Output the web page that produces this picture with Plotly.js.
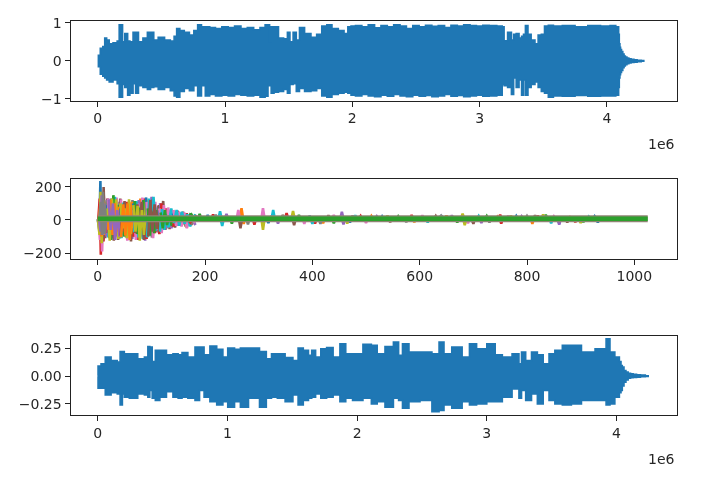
<!DOCTYPE html>
<html><head><meta charset="utf-8">
<script src="https://cdn.plot.ly/plotly-3.0.1.min.js"></script>
<style>html,body{margin:0;padding:0;background:#fff}#c{width:703px;height:479px;filter:blur(0.5px)}</style>
</head><body><div id="c"></div>
<script>
// Panel 1: envelope of the waveform (x in units of 1e6 samples)
const topTimes=[0,.01,.03,.05,.06,.08,.1,.14,.165,.172,.19,.2,.225,.245,.26,.27,.285,.31,.33,.38,.4,.43,.45,.5,.55,.59,.61,.63,.66,.7,.74,.77,.8,.83,.86,.9,.95,1,1.05,1.1,1.15,1.2,1.25,1.3,1.33,1.345,1.355,1.37,1.4,1.44,1.48,1.5,1.52,1.55,1.57,1.6,1.65,1.7,1.74,1.78,1.82,1.86,1.92,1.95,1.98,2,2.05,2.1,2.15,2.2,2.25,2.3,2.35,2.4,2.45,2.5,2.55,2.6,2.65,2.7,2.75,2.8,2.85,2.9,2.95,3,3.05,3.1,3.17,3.185,3.2,3.24,3.26,3.275,3.3,3.32,3.34,3.35,3.37,3.39,3.42,3.45,3.47,3.5,3.52,3.56,3.6,3.7,3.8,3.9,4,4.05,4.09,4.095,4.1,4.105,4.11,4.12,4.13,4.14,4.15,4.165,4.18,4.2,4.225,4.25,4.29];
const topUpper=[.02,.15,.33,.38,.6,.55,.45,.48,.52,.95,.95,.5,.72,.52,.5,.5,.75,.75,.5,.6,.75,.75,.55,.62,.55,.52,.65,.85,.8,.75,.68,.8,.95,.9,.9,.88,.85,.9,.88,.92,.85,.88,.82,.88,.95,.95,.5,.9,.9,.6,.58,.75,.5,.75,.55,.88,.72,.62,.7,.92,.95,.85,.8,.72,.9,.92,.93,.9,.95,.87,.93,.9,.95,.92,.85,.93,.9,.94,.91,.93,.88,.94,.92,.95,.93,.92,.94,.93,.92,.9,.53,.75,.55,.7,.72,.6,.65,.7,.93,.7,.55,.45,.68,.7,.92,.94,.92,.93,.9,.93,.92,.93,.9,.7,.45,.36,.3,.25,.18,.13,.1,.075,.055,.04,.03,.02,.01];
const topLower=[-.02,-.15,-.35,-.4,-.45,-.5,-.55,-.5,-.6,-.95,-.95,-.62,-.7,-.9,-.6,-.85,-.6,-.85,-.65,-.7,-.75,-.7,-.68,-.75,-.7,-.78,-.92,-.95,-.8,-.72,-.78,-.65,-.92,-.65,-.92,-.88,-.92,-.9,-.92,-.88,-.9,-.92,-.9,-.95,-.93,-.6,-.65,-.85,-.82,-.8,-.75,-.85,-.62,-.6,-.8,-.72,-.8,-.78,-.72,-.92,-.95,-.88,-.85,-.82,-.85,-.9,-.92,-.88,-.92,-.94,-.9,-.93,-.88,-.92,-.94,-.9,-.93,-.91,-.94,-.92,-.88,-.93,-.91,-.94,-.92,-.9,-.93,-.92,-.9,-.62,-.65,-.7,-.88,-.45,-.7,-.5,-.9,-.5,-.9,-.7,-.62,-.55,-.7,-.8,-.85,-.95,-.92,-.93,-.91,-.93,-.92,-.92,-.9,-.7,-.45,-.36,-.3,-.25,-.18,-.13,-.1,-.075,-.055,-.04,-.03,-.02,-.01];

// Panel 2: frequency bins, one series per colour of the cycle
const headBins=[0,3,5,7,10,14,18,22,26,30,34,38,42,46,50,54,58,62,66,70,74,78,82,86,90,94,98,102,106,110,114,118,122,126,130,135,140,145,150,155,160,165,170,180];
const headShift=[0,1.6,3.2,.8,2.4,4,1.2,2.8,.4,2];
const headBlue=[5,-60,235,-120,110,-70,90,-95,60,-80,100,-50,70,-90,60,-40,85,-60,100,-75,50,-85,100,-60,135,-70,110,-65,100,-50,60,-40,50,-25,45,-30,40,-20,30,-25,20,-15,25,-10];
const headOrange=[-8,75,-100,140,-90,110,-60,120,-90,100,-70,80,-105,95,-95,100,-120,110,-70,85,-95,130,-60,100,-70,110,-85,90,-60,70,-75,60,-40,50,-45,60,-25,40,-30,20,-25,30,-15,20];
const headGreen=[6,-40,90,-110,95,-85,100,-120,150,-75,90,-110,60,-100,80,-70,60,-95,115,-85,75,-60,120,-90,70,-95,50,-80,60,-55,45,-50,60,-30,25,-35,15,-30,25,-20,15,-25,42,-12];
const headRed=[-10,130,-210,160,-130,95,-80,110,-70,120,-85,60,-95,70,-60,110,-95,80,-100,60,-120,70,-100,130,-115,60,-80,125,-80,50,-85,100,-35,70,-30,45,-40,25,-20,35,-18,40,-20,15];
const headPurple=[4,-70,150,-90,100,-100,125,-60,100,-120,60,-100,80,-60,105,-90,70,-115,55,-110,120,-70,95,-125,85,-75,140,-50,75,-75,100,-45,55,-50,30,-50,20,-35,45,-15,30,-15,18,-30];
const headBrown=[-7,95,-130,200,-110,130,-110,70,-125,85,-120,130,-70,115,-80,60,-130,65,-80,95,-60,110,-120,75,-100,120,-70,95,-55,90,-40,115,-60,40,-55,30,-45,55,-12,50,-40,15,-30,30];
const headPink=[5,-120,130,-190,150,-60,130,-90,120,-105,135,-85,125,-75,90,-125,105,-70,60,-120,100,-110,135,-70,110,-85,60,-110,110,-60,70,-80,90,-25,75,-20,60,-35,50,-40,45,-50,22,-18];
const headGray=[-6,110,-90,170,-85,120,-95,130,-100,70,-100,110,-85,80,-105,75,-75,120,-90,110,-80,85,-75,115,-80,90,-105,70,-70,85,-55,75,-50,65,-40,40,-30,45,-22,35,-30,25,-25,20];
const headOlive=[4,-90,170,-140,120,-75,70,-125,130,-90,125,-115,100,-50,70,-110,125,-85,90,-70,85,-125,60,-90,125,-65,85,-105,95,-40,65,-65,40,-45,40,-40,25,-28,40,-25,35,-45,12,-22];
const headCyan=[-5,50,-75,100,-60,105,-105,85,-110,140,-60,95,-110,105,-85,90,-80,100,-75,115,-105,60,-115,85,-105,130,-60,140,-65,75,-70,65,-60,30,-45,70,-20,60,-35,50,-22,35,-40,35];

const tailBinsBlue=[205,318,395,470,530,640,700,780,860,926,932], tailBlue=[30,-18,25,-16,22,28,-18,24,-20,22,-16];
const tailBinsOrange=[268,272,345,420,510,590,650,745,810,880], tailOrange=[72,-24,28,-20,24,-14,26,20,-24,18];
const tailBinsGreen=[190,250,375,440,560,670,725,835,905], tailGreen=[36,-22,30,-20,22,-16,24,32,-14];
const tailBinsRed=[215,292,352,405,490,585,750,752,820,890], tailRed=[34,-28,42,-22,24,30,32,-22,26,-14];
const tailBinsPurple=[240,336,455,458,520,660,715,790,860], tailPurple=[36,-22,50,-26,22,28,-18,22,-28];
const tailBinsBrown=[266,325,366,430,545,630,700,815,875], tailBrown=[-50,28,-32,28,-14,24,-24,28,-16];
const tailBinsPink=[262,308,385,440,500,605,690,765,850,940], tailPink=[60,72,-24,30,-18,28,-20,26,22,14];
const tailBinsGray=[220,280,345,415,475,575,640,730,800], tailGray=[32,-26,30,-24,26,-14,24,-16,24];
const tailBinsOlive=[308,364,465,540,680,684,770,830,900], tailOlive=[-60,55,-22,26,38,-32,26,34,-18];
const tailBinsCyan=[228,232,327,400,480,615,710,845,915], tailCyan=[52,-36,60,-24,28,-16,24,-20,20];
const colorCycle=['#1f77b4','#ff7f0e','#2ca02c','#d62728','#9467bd','#8c564b','#e377c2','#7f7f7f','#bcbd22','#17becf'];
const bandBins=[0,1025], bandGray=[8,8], bandGreen=[8,8];

// Panel 3: envelope of the second waveform (x in units of 1e6 samples)
const lowTimes=[0,.005,.046,.07,.136,.165,.18,.2,.21,.277,.34,.38,.393,.41,.43,.458,.5,.56,.6,.64,.66,.73,.77,.8,.84,.89,.945,.985,1.02,1.09,1.11,1.215,1.28,1.32,1.36,1.41,1.48,1.53,1.56,1.61,1.64,1.66,1.7,1.74,1.79,1.84,1.895,1.93,2,2.09,2.13,2.18,2.25,2.31,2.33,2.37,2.43,2.54,2.614,2.65,2.69,2.77,2.85,2.883,2.96,3.04,3.09,3.15,3.24,3.256,3.28,3.32,3.37,3.41,3.46,3.5,3.55,3.615,3.69,3.77,3.9,3.94,3.96,4.015,4.03,4.04,4.05,4.066,4.08,4.1,4.117,4.14,4.17,4.2,4.245];
const lowUpper=[.003,.09,.11,.17,.14,.125,.22,.22,.2,.2,.155,.17,.265,.26,.13,.23,.23,.19,.2,.19,.21,.17,.26,.26,.19,.27,.24,.17,.25,.24,.25,.25,.22,.155,.2,.2,.165,.14,.25,.23,.185,.23,.17,.245,.255,.17,.29,.2,.2,.285,.275,.2,.265,.305,.185,.29,.215,.215,.2,.305,.2,.26,.17,.29,.245,.29,.19,.17,.2,.11,.215,.14,.215,.19,.11,.2,.23,.275,.275,.215,.245,.335,.215,.17,.13,.095,.08,.05,.035,.025,.02,.015,.012,.008,.003];
const lowLower=[-.003,-.11,-.11,-.17,-.15,-.16,-.26,-.16,-.19,-.2,-.16,-.17,-.19,-.13,-.2,-.22,-.19,-.14,-.19,-.2,-.19,-.2,-.22,-.13,-.19,-.23,-.26,-.23,-.28,-.23,-.28,-.2,-.28,-.2,-.19,-.2,-.23,-.17,-.26,-.22,-.2,-.19,-.16,-.2,-.19,-.17,-.23,-.2,-.22,-.2,-.25,-.23,-.28,-.2,-.22,-.29,-.23,-.22,-.32,-.31,-.26,-.29,-.23,-.26,-.25,-.23,-.23,-.19,-.115,-.2,-.13,-.22,-.16,-.25,-.13,-.22,-.25,-.26,-.25,-.22,-.22,-.26,-.25,-.19,-.15,-.13,-.09,-.055,-.035,-.02,-.015,-.012,-.01,-.006,-.003];

const W=703,H=479;
function envelope(xs,up,lo,xa,ya){
  return {x:xs.concat(xs.slice().reverse()),y:up.concat(lo.slice().reverse()),mode:'lines',fill:'toself',
    fillcolor:'#1f77b4',line:{color:'#1f77b4',width:1.6,shape:'hvh'},xaxis:xa,yaxis:ya,hoverinfo:'skip'};
}
const stroke=color=>({color,width:2.6});
const heads=[headBlue,headOrange,headGreen,headRed,headPurple,headBrown,headPink,headGray,headOlive,headCyan];
const bins=[tailBinsBlue,tailBinsOrange,tailBinsGreen,tailBinsRed,tailBinsPurple,tailBinsBrown,tailBinsPink,tailBinsGray,tailBinsOlive,tailBinsCyan];
const tails=[tailBlue,tailOrange,tailGreen,tailRed,tailPurple,tailBrown,tailPink,tailGray,tailOlive,tailCyan];
const traces=[envelope(topTimes,topUpper,topLower,'x','y')];
// tails first, then the head of every series in short runs whose drawing order rotates, so that colours interleave
bins.forEach((b,i)=>{
  const x=[],y=[];
  b.forEach((v,j)=>{x.push(v-3,v,v+3);y.push(8,tails[i][j],8);});
  traces.push({x,y,mode:'lines',line:stroke(colorCycle[i]),xaxis:'x2',yaxis:'y2',hoverinfo:'skip'});
});
const runLength=6;
for(let k=0,start=0;start<headBins.length-1;k++,start+=runLength){
  for(let n=0;n<10;n++){
    const i=(n*3+k*7)%10;
    traces.push({x:headBins.slice(start,start+runLength+1).map(b=>b+headShift[i]),y:heads[i].slice(start,start+runLength+1),
      mode:'lines',line:stroke(colorCycle[i]),xaxis:'x2',yaxis:'y2',hoverinfo:'skip'});
  }
}
traces.push({x:bandBins,y:bandGray,mode:'lines',line:{color:'#8f8474',width:7},xaxis:'x2',yaxis:'y2',hoverinfo:'skip'});
traces.push({x:bandBins,y:bandGreen,mode:'lines',line:{color:'#2ca02c',width:4.5},xaxis:'x2',yaxis:'y2',hoverinfo:'skip'});
traces.push(envelope(lowTimes,lowUpper,lowLower,'x3','y3'));

const font={family:'"DejaVu Sans",sans-serif',size:14,color:'#262626'};
const dom=[70.5/W,676.5/W];
function xax(range,tv,tt,anchor){return {domain:dom,range,tickmode:'array',tickvals:tv,ticktext:tt,anchor,
  showgrid:false,zeroline:false,showline:true,mirror:true,linecolor:'#222',linewidth:1,ticks:'outside',ticklen:5,tickwidth:1,tickcolor:'#222',tickfont:font};}
function yax(range,tv,tt,anchor,t,b){return {domain:[1-b/H,1-t/H],range,tickmode:'array',tickvals:tv,ticktext:tt,anchor,
  showgrid:false,zeroline:false,showline:true,mirror:true,linecolor:'#222',linewidth:1,ticks:'outside',ticklen:5,tickwidth:1,tickcolor:'#222',tickfont:font};}
const layout={width:W,height:H,margin:{l:0,r:0,t:0,b:0},showlegend:false,paper_bgcolor:'#fff',plot_bgcolor:'#fff',
  xaxis:xax([-.214,4.547],[0,1,2,3,4],['0','1','2','3','4'],'y'),
  yaxis:yax([-1.04,1.05],[-1,0,1],['\u22121','0','1'],'x',21,100.5),
  xaxis2:xax([-50.7,1078.6],[0,200,400,600,800,1000],['0','200','400','600','800','1000'],'y2'),
  yaxis2:yax([-233,251],[-200,0,200],['\u2212200','0','200'],'x2',178.5,258.5),
  xaxis3:xax([-.21,4.463],[0,1,2,3,4],['0','1','2','3','4'],'y3'),
  yaxis3:yax([-.35,.362],[-.25,0,.25],['\u22120.25','0.00','0.25'],'x3',335.7,415),
  annotations:[
   {text:'1e6',xref:'paper',yref:'paper',x:676.5/W,y:1-144/H,xanchor:'right',yanchor:'middle',showarrow:false,font},
   {text:'1e6',xref:'paper',yref:'paper',x:676.5/W,y:1-459/H,xanchor:'right',yanchor:'middle',showarrow:false,font}
  ]};
Plotly.newPlot('c',traces,layout,{displayModeBar:false,responsive:false});
</script></body></html>
